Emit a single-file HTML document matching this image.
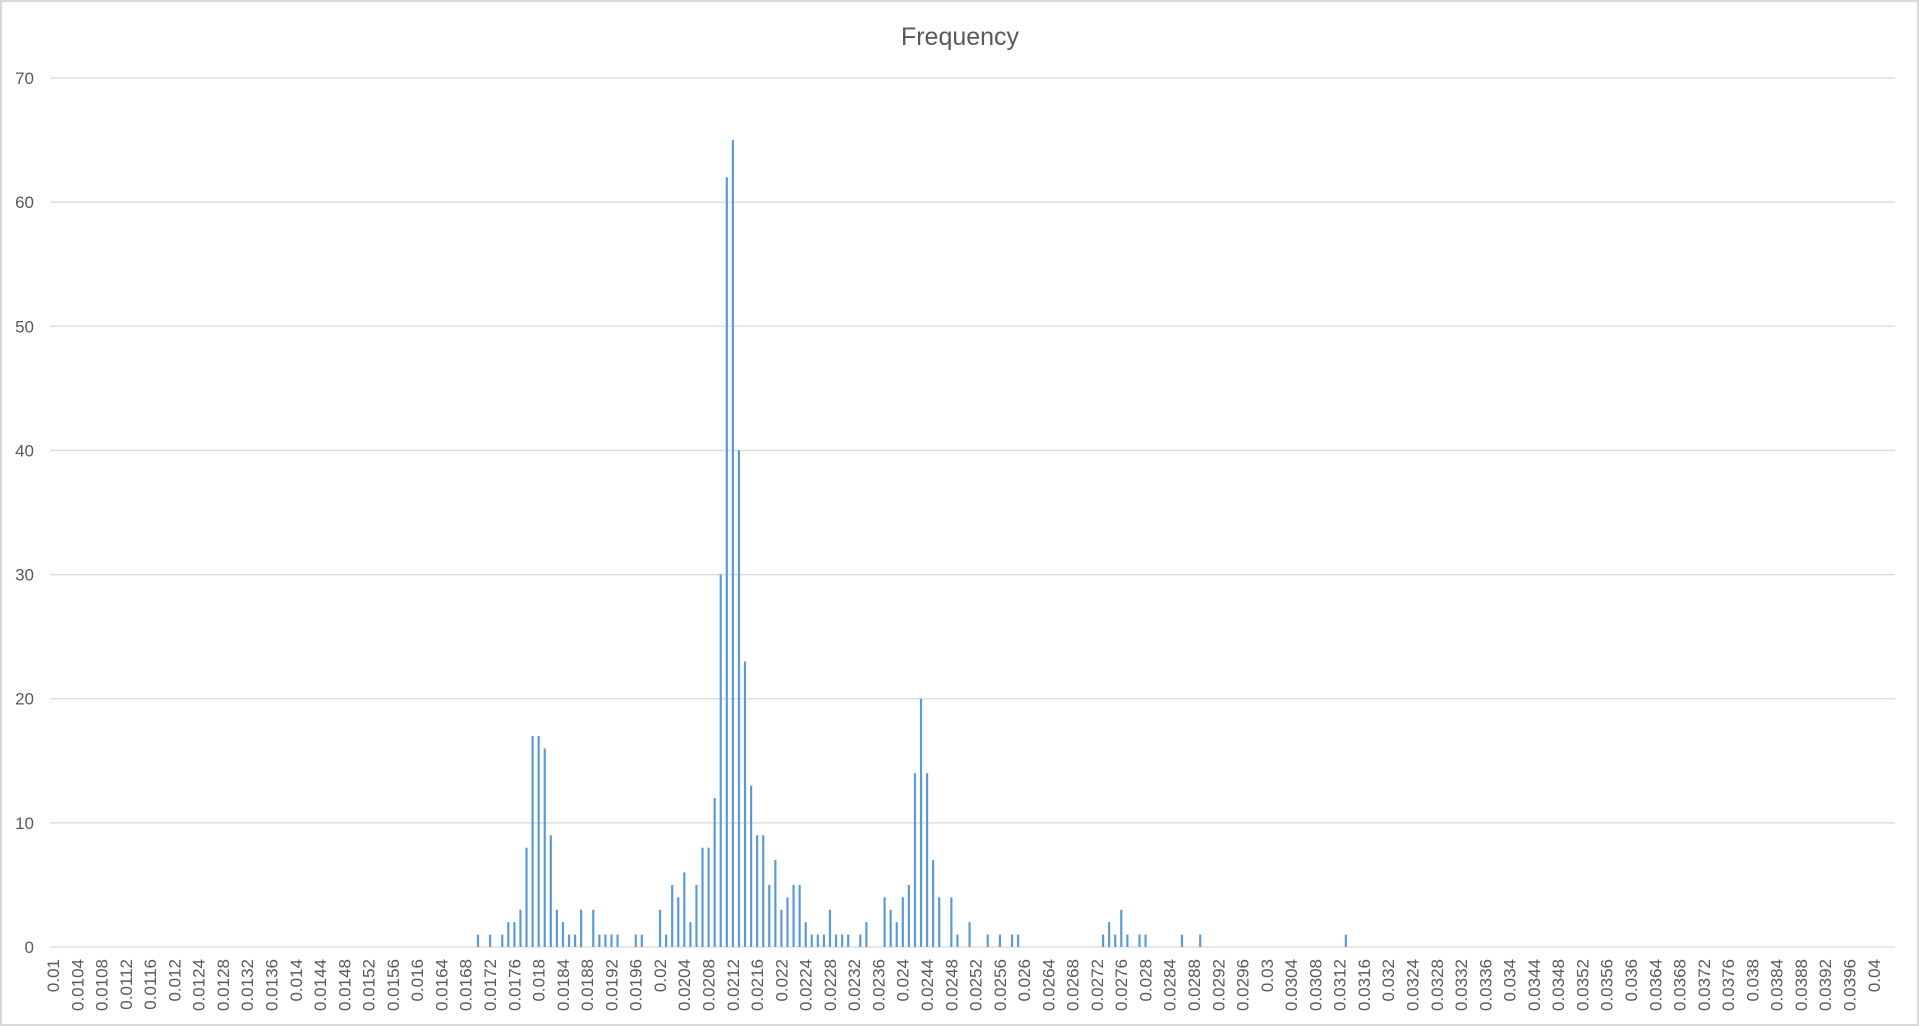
<!DOCTYPE html>
<html><head><meta charset="utf-8"><style>
html,body{margin:0;padding:0;background:#fff;}
#wrap{position:relative;width:1919px;height:1026px;overflow:hidden;}
svg{font-family:"Liberation Sans",sans-serif;}
</style></head><body>
<div id="wrap">
<svg id="chart" width="1919" height="1026">
<rect x="1" y="1" width="1917" height="1024" fill="#fff" stroke="#d9d9d9" stroke-width="2"/>
<text x="960" y="45" text-anchor="middle" font-size="25" fill="#595959">Frequency</text>
<g id="grid"></g><g id="ylabels"></g><g id="bars"></g><g id="xlabels"></g>
</svg></div>
<script>
const binStart = 0.01;
const binStep = 0.0001;
const binCount = 304;
const barIndices = [70,72,74,75,76,77,78,79,80,81,82,83,84,85,86,87,89,90,91,92,93,96,97,100,101,102,103,104,105,106,107,108,109,110,111,112,113,114,115,116,117,118,119,120,121,122,123,124,125,126,127,128,129,130,131,133,134,137,138,139,140,141,142,143,144,145,146,148,149,151,154,156,158,159,173,174,175,176,177,179,180,186,189,213];
const barValues = [1,1,1,2,2,3,8,17,17,16,9,3,2,1,1,3,3,1,1,1,1,1,1,3,1,5,4,6,2,5,8,8,12,30,62,65,40,23,13,9,9,5,7,3,4,5,5,2,1,1,1,3,1,1,1,1,2,4,3,2,4,5,14,20,14,7,4,4,1,2,1,1,1,1,1,2,1,3,1,1,1,1,1,1];
const yTicks = [0,10,20,30,40,50,60,70];
const labelEvery = 4;
const labelLast = 300;

const NS="http://www.w3.org/2000/svg";
const L=50,R=1895,T=78,B=947,yMax=70;
const bw=(R-L)/binCount;
function xC(i){return L+(i+0.5)*bw;}
function yS(v){return B-(v/yMax)*(B-T);}
function mk(tag,attrs,parent){const e=document.createElementNS(NS,tag);for(const k in attrs)e.setAttribute(k,attrs[k]);parent.appendChild(e);return e;}
const grid=document.getElementById('grid'),yl=document.getElementById('ylabels'),bars=document.getElementById('bars'),xl=document.getElementById('xlabels');
yTicks.forEach(t=>{
  const ln=mk('line',{x1:L,x2:R,y1:yS(t),y2:yS(t),stroke:'#d9d9d9','stroke-width':1.3},grid);
  
  
  const tx=mk('text',{x:34,y:yS(t)+6,'text-anchor':'end','font-size':17,fill:'#595959'},yl);
  tx.textContent=t;
  
  
});
barIndices.forEach((idx,k)=>{
  const v=barValues[k];
  const r=mk('rect',{x:xC(idx)-1,y:yS(v),width:2.2,height:B-yS(v),fill:'#5b9bd5'},bars);
  
  
});
for(let i=0;i<=labelLast;i+=labelEvery){
  const val=+(binStart+i*binStep).toFixed(4);
  const x=xC(i);
  const tx=mk('text',{transform:'translate('+(x+6)+',959) rotate(-90)','text-anchor':'end','font-size':17,fill:'#595959'},xl);
  tx.textContent=String(val);
  
  
}
</script>
</body></html>
